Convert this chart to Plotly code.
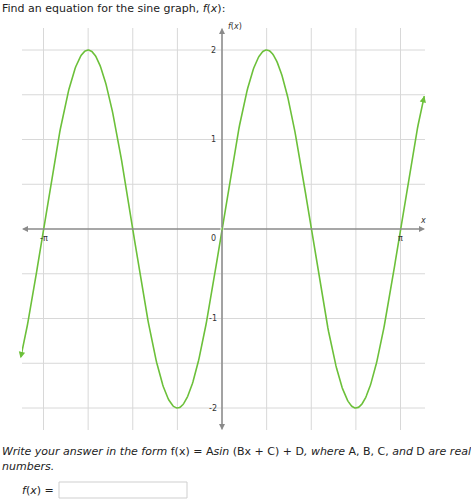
import numpy as np
import plotly.graph_objects as go

A, B, C, D = 2.0, 2.0, 0.0, 0.0
x_start, x_end = -3.545, 3.56
x_grid = [k * np.pi / 4 for k in range(-4, 5)]
y_grid = [-2, -1.5, -1, -0.5, 0.5, 1, 1.5, 2]
x_tick_labels = {-np.pi: "-π", np.pi: "π"}
y_tick_labels = {2: "2", 1: "1", -1: "-1", -2: "-2"}

W, H = 471, 500
L, R, T, Bm = 22, 46, 28, 70
xr = [(22 - 222) / 178.5 * np.pi, (425 - 222) / 178.5 * np.pi]
yr = [(229 - 430) / 89.5, (229 - 28) / 89.5]

def px(p):
    return (p - L) / (W - L - R)
def py(p):
    return (H - Bm - p) / (H - T - Bm)

xs = np.linspace(x_start, x_end, 600)
ys = A * np.sin(B * xs + C) + D
green = "#6cc03a"
gray = "#8a8a8a"
grid = "#d8d8d8"

fig = go.Figure()
fig.add_trace(go.Scatter(x=xs, y=ys, mode="lines", line=dict(color=green, width=1.6),
                         hoverinfo="skip", showlegend=False))

shapes = []
for gx in x_grid:
    shapes.append(dict(type="line", xref="x", yref="paper", x0=gx, x1=gx, y0=0, y1=1,
                       line=dict(color=grid, width=1), layer="below"))
for gy in y_grid:
    shapes.append(dict(type="line", xref="paper", yref="y", x0=0, x1=1, y0=gy, y1=gy,
                       line=dict(color=grid, width=1), layer="below"))
shapes.append(dict(type="rect", xref="paper", yref="paper", x0=px(59), x1=px(187),
                   y0=py(498), y1=py(482), line=dict(color="#cfcfcf", width=1), fillcolor="white"))

ann = []
def arrow(x, y, color):
    ann.append(dict(x=x, y=y, ax=0, ay=0, xref="x", yref="y", axref="x", ayref="y",
                    text="", showarrow=True, arrowhead=2, arrowsize=0.8, arrowwidth=1.5,
                    arrowcolor=color))
arrow(xr[1], 0, gray)
arrow(xr[0], 0, gray)
arrow(0, yr[1], gray)
arrow(0, yr[0], gray)
for xe, xb in [(x_start, x_start + 0.03), (x_end, x_end - 0.03)]:
    ann.append(dict(x=xe, y=A * np.sin(B * xe + C) + D,
                    ax=xb, ay=A * np.sin(B * xb + C) + D,
                    xref="x", yref="y", axref="x", ayref="y", text="", showarrow=True,
                    arrowhead=2, arrowsize=0.8, arrowwidth=1.6, arrowcolor=green,
                    standoff=0))

small = dict(family="DejaVu Sans", size=8, color="#333")
for v, t in x_tick_labels.items():
    ann.append(dict(x=v, y=0, xref="x", yref="y", text=t, showarrow=False,
                    yshift=-9, font=small))
ann.append(dict(x=0, y=0, xref="x", yref="y", text="0", showarrow=False,
                xshift=-9, yshift=-9, font=small))
for v, t in y_tick_labels.items():
    ann.append(dict(x=0, y=v, xref="x", yref="y", text=t, showarrow=False,
                    xshift=-9, font=small))
ann.append(dict(x=0, y=yr[1], xref="x", yref="y", text="<i>f</i>(<i>x</i>)", showarrow=False,
                xshift=13, yshift=2, font=small))
ann.append(dict(x=xr[1], y=0, xref="x", yref="y", text="<i>x</i>", showarrow=False,
                xshift=-2, yshift=9, font=small))

body = dict(family="DejaVu Sans", size=11, color="#222")
def text(xp, yp, t):
    ann.append(dict(x=px(xp), y=py(yp), xref="paper", yref="paper", xanchor="left",
                    yanchor="middle", text=t, showarrow=False, font=body))
text(0, 8, "Find an equation for the sine graph, <i>f</i>(<i>x</i>):")
text(0, 451, "<i>Write your answer in the form</i> f(x) = A<i>sin</i> (Bx + C) + D<i>, where</i> A, B, C, <i>and</i> D <i>are real</i>")
text(0, 466, "<i>numbers.</i>")
text(20, 490, "<i>f</i>(<i>x</i>) =")

fig.update_layout(
    width=W, height=H, margin=dict(l=L, r=R, t=T, b=Bm),
    plot_bgcolor="white", paper_bgcolor="white",
    xaxis=dict(range=xr, showgrid=False, zeroline=False, showticklabels=False, ticks="", fixedrange=True),
    yaxis=dict(range=yr, showgrid=False, zeroline=False, showticklabels=False, ticks="", fixedrange=True),
    shapes=shapes, annotations=ann, showlegend=False,
)
fig.write_html("out.html", config={"displayModeBar": False},
               post_script="document.body.style.margin='0';document.body.style.overflow='hidden';")
